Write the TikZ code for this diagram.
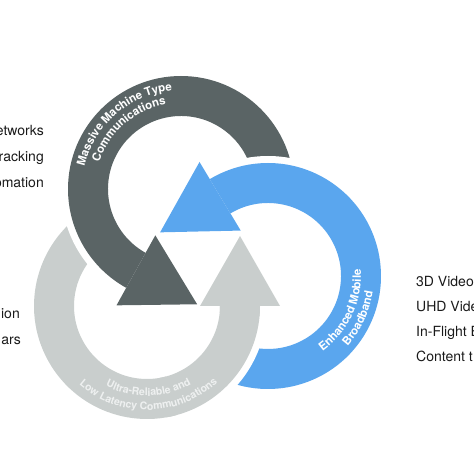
\documentclass[tikz,border=0pt]{standalone}
\usepackage{fontspec}
\setmainfont{TeX Gyre Heros}
\usetikzlibrary{decorations.text}
\definecolor{ringDark}{HTML}{5A6465}
\definecolor{ringBlue}{HTML}{5AA6EE}
\definecolor{ringGray}{HTML}{C9CECD}
\definecolor{ringGrayText}{HTML}{EEF0F0}
\definecolor{listInk}{HTML}{1A1A1A}
\tikzset{
  usecase/.style={font=\fontsize{14}{16}\selectfont, text=listInk, inner sep=0pt},
  ringlabel/.style={decorate, decoration={text along path, text align=center, text color=#1}},
}
\begin{document}
\begin{tikzpicture}[x=1pt, y=1pt]
  \useasboundingbox (0,0) rectangle (474,474);
  % ring centres
  \coordinate (gc) at (147,168);
  \coordinate (dc) at (181,285);
  \coordinate (bc) at (268,198);
  % Low latency ring (gray), head at 0 deg
  \fill[ringGray] ([shift={(125:113)}]gc) arc[start angle=125, end angle=360, radius=113]
    -- ([shift={(0:73)}]gc) arc[start angle=360, end angle=125, radius=73] -- cycle;
  \fill[ringGray] ([shift={(0:53)}]gc) -- ([shift={(0:133)}]gc)
    -- ([shift={(0:93)},shift={(90:70)}]gc) -- cycle;
  % Machine type ring (dark), white gap first, head at 241 deg
  \fill[white] ([shift={(0:120)}]dc) arc[start angle=0, end angle=241, radius=120]
    -- ([shift={(241:66)}]dc) arc[start angle=241, end angle=0, radius=66] -- cycle;
  \fill[ringDark] ([shift={(0:113)}]dc) arc[start angle=0, end angle=241, radius=113]
    -- ([shift={(241:73)}]dc) arc[start angle=241, end angle=0, radius=73] -- cycle;
  \fill[ringDark] ([shift={(241:53)}]dc) -- ([shift={(241:133)}]dc)
    -- ([shift={(241:93)},shift={(331:70)}]dc) -- cycle;
  % Broadband ring (blue), white gap first, head at 121 deg
  \fill[white] ([shift={(235:120)}]bc) arc[start angle=235, end angle=481, radius=120]
    -- ([shift={(121:66)}]bc) arc[start angle=481, end angle=235, radius=66] -- cycle;
  \fill[ringBlue] ([shift={(235:113)}]bc) arc[start angle=235, end angle=481, radius=113]
    -- ([shift={(121:73)}]bc) arc[start angle=481, end angle=235, radius=73] -- cycle;
  \fill[ringBlue] ([shift={(121:53)}]bc) -- ([shift={(121:133)}]bc)
    -- ([shift={(121:93)},shift={(211:70)}]bc) -- cycle;
  % gray again over the blue tail
  \fill[white] ([shift={(285:120)}]gc) arc[start angle=285, end angle=355, radius=120]
    -- ([shift={(355:66)}]gc) arc[start angle=355, end angle=285, radius=66] -- cycle;
  \fill[ringGray] ([shift={(280:113)}]gc) arc[start angle=280, end angle=360, radius=113]
    -- ([shift={(0:73)}]gc) arc[start angle=360, end angle=280, radius=73] -- cycle;
  % Ring labels
  \path[ringlabel=white, decoration={text={|\fontsize{11.5}{12}\selectfont\bfseries|Massive Machine Type}}]
    ([shift={(175:99)}]dc) arc[start angle=175, end angle=87, radius=99];
  \path[ringlabel=white, decoration={text={|\fontsize{11.5}{12}\selectfont\bfseries|Communications}}]
    ([shift={(175:86)}]dc) arc[start angle=175, end angle=87, radius=86];
  \path[ringlabel=white, decoration={text={|\fontsize{11.5}{12}\selectfont\bfseries|Enhanced Mobile}}]
    ([shift={(-75:93)}]bc) arc[start angle=-75, end angle=25, radius=93];
  \path[ringlabel=white, decoration={text={|\fontsize{11.5}{12}\selectfont\bfseries|Broadband}}]
    ([shift={(-75:106)}]bc) arc[start angle=-75, end angle=25, radius=106];
  \path[ringlabel=ringGrayText, decoration={text={|\fontsize{10.5}{11}\selectfont\bfseries|Ultra-Reliable and}}]
    ([shift={(211:90)}]gc) arc[start angle=211, end angle=331, radius=90];
  \path[ringlabel=ringGrayText, decoration={text={|\fontsize{10.5}{11}\selectfont\bfseries|Low Latency Communications}}]
    ([shift={(211:104)}]gc) arc[start angle=211, end angle=331, radius=104];
  % Use cases, left
  \node[usecase, anchor=base east] (net) at (44,338) {etworks};
  \node[usecase, anchor=base east] (trk) at (44,312) {racking};
  \node[usecase, anchor=base east] (aut) at (44,286) {omation};
  \node[usecase, anchor=base east] (ion) at (20,155) {ion};
  \node[usecase, anchor=base east] (car) at (21,129) {ars};
  % Use cases, right
  \node[usecase, anchor=base west] (vid) at (416,187) {3D Video};
  \node[usecase, anchor=base west] (uhd) at (416,162) {UHD Video};
  \node[usecase, anchor=base west] (ife) at (416,137) {In-Flight E};
  \node[usecase, anchor=base west] (cnt) at (416,112) {Content t};
\end{tikzpicture}
\end{document}
